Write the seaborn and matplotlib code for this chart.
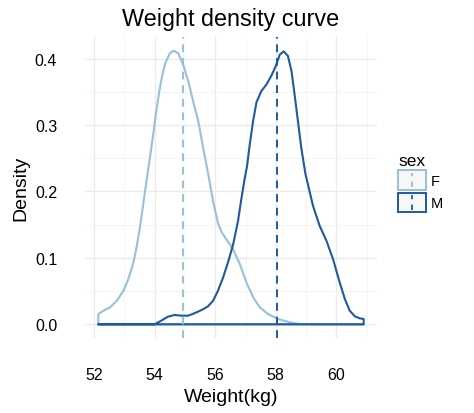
import pandas as pd
import matplotlib
matplotlib.use("Agg")
import matplotlib.pyplot as plt
import seaborn as sns
from matplotlib.patches import Rectangle
from matplotlib.lines import Line2D
from matplotlib.legend_handler import HandlerBase
from matplotlib.ticker import MultipleLocator

sns.set_theme(style="whitegrid")
plt.rcParams['font.family'] = ['Liberation Sans', 'DejaVu Sans']
plt.rcParams['text.color'] = 'black'
plt.rcParams['axes.labelcolor'] = 'black'

# density curves
f_x = [52.14, 52.31, 52.53, 52.75, 52.97, 53.13, 53.30, 53.41, 53.52, 53.63, 53.74, 53.84,
       53.95, 54.05, 54.15, 54.25, 54.35, 54.50, 54.63, 54.78, 54.94, 55.11, 55.27, 55.44,
       55.60, 55.77, 55.93, 56.09, 56.22, 56.37, 56.59, 56.81, 57.03, 57.25, 57.47, 57.74,
       58.07, 58.46, 58.79, 59.5, 60.90]
f_y = [0.0155, 0.0205, 0.0255, 0.0355, 0.0505, 0.068, 0.093, 0.118, 0.148, 0.183, 0.219, 0.25,
       0.285, 0.32, 0.35, 0.375, 0.393, 0.408, 0.412, 0.408, 0.391, 0.366, 0.336, 0.306,
       0.266, 0.226, 0.185, 0.152, 0.138, 0.128, 0.113, 0.091, 0.063, 0.041, 0.0255, 0.0155,
       0.008, 0.003, 0.0005, 0.0, 0.0]

m_x = [52.14, 53.0, 54.0, 54.22, 54.44, 54.66, 54.88, 55.11, 55.33, 55.55, 55.76, 55.93,
       56.09, 56.26, 56.42, 56.59, 56.75, 56.86, 56.97, 57.05, 57.14, 57.25, 57.36, 57.52,
       57.69, 57.85, 58.0, 58.13, 58.26, 58.40, 58.52, 58.62, 58.73, 58.84, 58.98, 59.09,
       59.23, 59.45, 59.67, 59.89, 60.11, 60.28, 60.44, 60.61, 60.77, 60.90]
m_y = [0.0, 0.0, 0.0, 0.0055, 0.0115, 0.014, 0.013, 0.013, 0.017, 0.0215, 0.027, 0.0355,
       0.0505, 0.0705, 0.093, 0.12, 0.155, 0.188, 0.219, 0.238, 0.271, 0.306, 0.334, 0.351,
       0.361, 0.374, 0.389, 0.406, 0.411, 0.404, 0.381, 0.346, 0.306, 0.266, 0.226, 0.205,
       0.178, 0.148, 0.126, 0.098, 0.063, 0.038, 0.0205, 0.012, 0.009, 0.008]

sexes = ['F', 'M']
means = [54.94, 58.05]
colors = ['#97c0dc', '#1d5a9e']


def closed(x, y, sex):
    # geom_density style outline: drop to zero at both ends
    xs = [x[0]] + x + [x[-1], x[0]]
    ys = [0.0] + y + [0.0, 0.0]
    return pd.DataFrame({'weight': xs, 'density': ys, 'sex': sex})


df = pd.concat([closed(f_x, f_y, 'F'), closed(m_x, m_y, 'M')], ignore_index=True)

fig = plt.figure(figsize=(4.74, 4.14), dpi=100)
ax = fig.add_axes([0.1793, 0.1812, 0.616, 0.727])

for sex, col in zip(sexes, colors):
    sns.lineplot(data=df[df['sex'] == sex], x='weight', y='density', sort=False,
                 color=col, linewidth=1.5, ax=ax, legend=False, estimator=None)

for m, col in zip(means, colors):
    ax.axvline(m, color=col, linestyle=(0, (4, 3)), linewidth=1.4)

ax.set_xlim(51.70, 61.34)
ax.set_ylim(-0.0206, 0.4326)
ax.xaxis.set_major_locator(MultipleLocator(2))
ax.xaxis.set_minor_locator(MultipleLocator(1))
ax.yaxis.set_minor_locator(MultipleLocator(0.05))
ax.set_yticks([0, 0.1, 0.2, 0.3, 0.4])
ax.set_yticklabels(['0.0', '0.1', '0.2', '0.3', '0.4'])
ax.grid(which='major', color='#ebebeb', linewidth=1.0)
ax.grid(which='minor', color='#f3f3f3', linewidth=0.6)
ax.set_facecolor('white')
for s in ax.spines.values():
    s.set_visible(False)
ax.tick_params(axis='both', which='both', length=0, labelsize=11.5, colors='black')
ax.tick_params(axis='x', pad=21)
ax.tick_params(axis='y', pad=20)

ax.set_title('Weight density curve', fontsize=16.8, pad=9)
ax.set_xlabel('Weight(kg)', fontsize=14, labelpad=4)
ax.set_ylabel('Density', fontsize=14, labelpad=4)


class BoxDashHandler(HandlerBase):
    def create_artists(self, legend, orig_handle, xdescent, ydescent, width, height, fontsize, trans):
        col = orig_handle.get_color()
        rect = Rectangle((-xdescent, -ydescent), width, height, facecolor='#f7f7f7',
                         edgecolor=col, linewidth=1.4, transform=trans)
        line = Line2D([width / 2 - xdescent] * 2, [-ydescent + 2, height - ydescent - 2], color=col,
                      linestyle=(0, (3, 3)), linewidth=1.3, transform=trans)
        return [rect, line]


handles = [Line2D([], [], color=c) for c in colors]
fig.text(398 / 474, 1 - 166 / 414, 'sex', fontsize=12.5, ha='left', va='baseline')
fig.legend(handles, sexes, loc='upper left', bbox_to_anchor=(398 / 474, 1 - 171 / 414),
           frameon=False, fontsize=10.5, borderpad=0, borderaxespad=0,
           handlelength=1.92, handleheight=1.71, labelspacing=0.2, handletextpad=0.3,
           handler_map={Line2D: BoxDashHandler()})

fig.savefig('out.png', dpi=100)
